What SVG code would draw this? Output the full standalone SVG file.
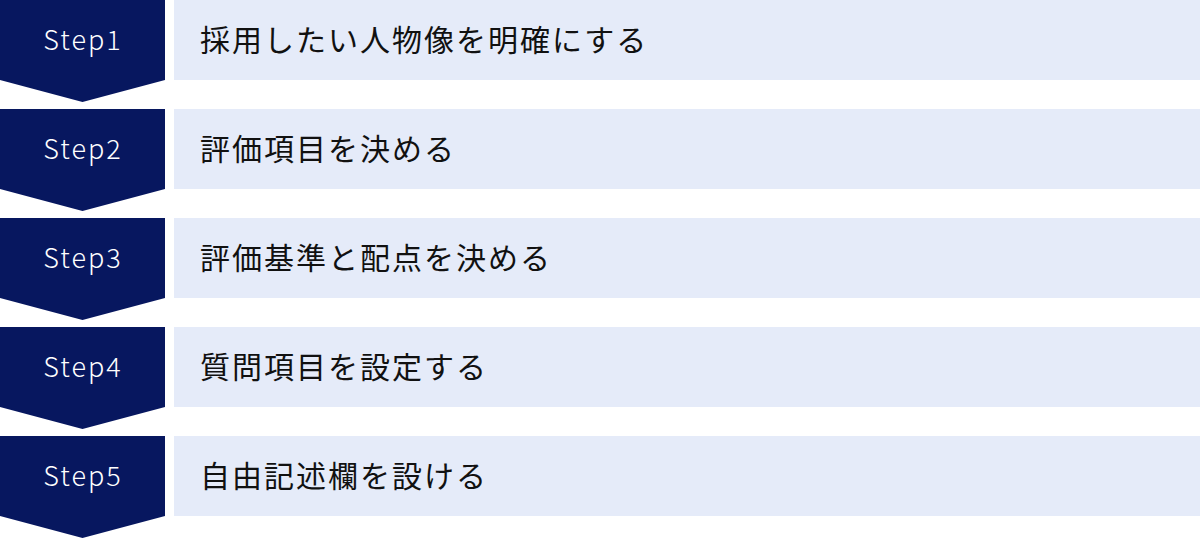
<svg xmlns="http://www.w3.org/2000/svg" width="1200" height="538" viewBox="0 0 1200 538">
<style>
.chev{fill:#07175f}
.bar{fill:#e5ebf9}
.st{font-family:"Noto Sans CJK JP","Noto Sans",sans-serif;font-size:27px;font-weight:300;fill:#ffffff;letter-spacing:2px;text-anchor:middle}
.lb{font-family:"Noto Sans CJK JP","Noto Sans",sans-serif;font-size:30px;fill:#111111;letter-spacing:2px}
</style>
<defs>
<path id="chv" d="M0 0H165V80L82.5 102L0 80Z"/>
</defs>
<g id="step1" transform="translate(0,0)">
<use href="#chv" class="chev"/>
<text class="st" x="83" y="50">Step1</text>
<rect class="bar" x="174" y="0" width="1026" height="80"/>
<text class="lb" x="200" y="51">採用したい人物像を明確にする</text>
</g>
<g id="step2" transform="translate(0,109)">
<use href="#chv" class="chev"/>
<text class="st" x="83" y="50">Step2</text>
<rect class="bar" x="174" y="0" width="1026" height="80"/>
<text class="lb" x="200" y="51">評価項目を決める</text>
</g>
<g id="step3" transform="translate(0,218)">
<use href="#chv" class="chev"/>
<text class="st" x="83" y="50">Step3</text>
<rect class="bar" x="174" y="0" width="1026" height="80"/>
<text class="lb" x="200" y="51">評価基準と配点を決める</text>
</g>
<g id="step4" transform="translate(0,327)">
<use href="#chv" class="chev"/>
<text class="st" x="83" y="50">Step4</text>
<rect class="bar" x="174" y="0" width="1026" height="80"/>
<text class="lb" x="200" y="51">質問項目を設定する</text>
</g>
<g id="step5" transform="translate(0,436)">
<use href="#chv" class="chev"/>
<text class="st" x="83" y="50">Step5</text>
<rect class="bar" x="174" y="0" width="1026" height="80"/>
<text class="lb" x="200" y="51">自由記述欄を設ける</text>
</g>
<g id="connectors"></g>
</svg>
